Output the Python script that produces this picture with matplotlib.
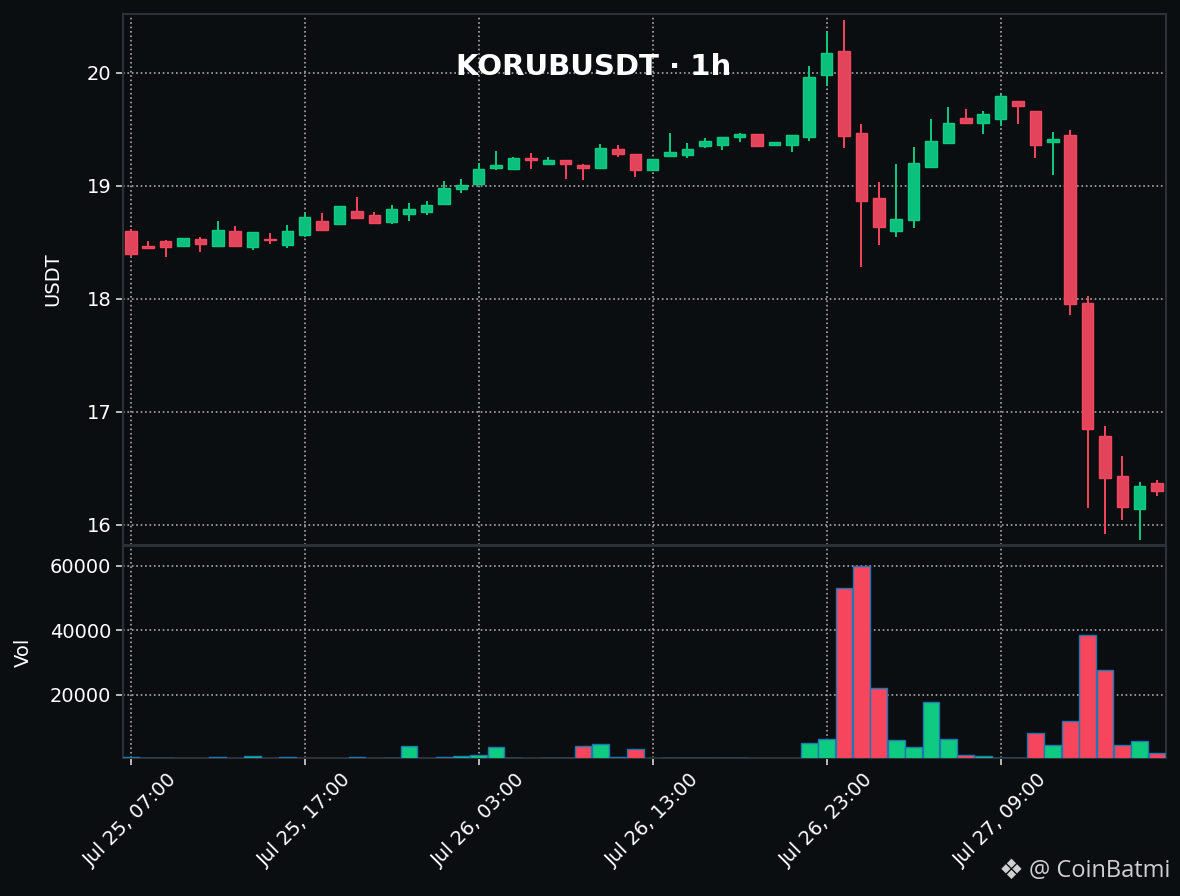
import matplotlib
matplotlib.use("Agg")
import matplotlib.pyplot as plt
import pandas as pd
import numpy as np

# hourly candles, KORUBUSDT
times = pd.date_range("2025-07-25 07:00", periods=60, freq="h")

opens = [18.60, 18.47, 18.51, 18.47, 18.53, 18.466, 18.60, 18.455, 18.53, 18.472,
         18.56, 18.69, 18.657, 18.776, 18.74, 18.68, 18.75, 18.767, 18.835, 18.97,
         19.015, 19.153, 19.145, 19.248, 19.19, 19.227, 19.186, 19.153, 19.325, 19.28,
         19.139, 19.263, 19.268, 19.348, 19.36, 19.43, 19.457, 19.36, 19.36, 19.43,
         19.98, 20.19, 19.466, 18.89, 18.60, 18.696, 19.165, 19.374, 19.60, 19.555,
         19.59, 19.75, 19.661, 19.387, 19.449, 17.962, 16.785, 16.431, 16.139, 16.369]
highs = [18.62, 18.51, 18.52, 18.54, 18.55, 18.69, 18.64, 18.59, 18.585, 18.655,
         18.76, 18.76, 18.82, 18.90, 18.77, 18.83, 18.85, 18.867, 19.045, 19.06,
         19.20, 19.31, 19.25, 19.29, 19.25, 19.23, 19.195, 19.37, 19.363, 19.28,
         19.24, 19.47, 19.38, 19.425, 19.43, 19.47, 19.46, 19.39, 19.45, 20.062,
         20.363, 20.47, 19.55, 19.035, 19.195, 19.345, 19.593, 19.70, 19.68, 19.665,
         19.814, 19.75, 19.661, 19.478, 19.496, 18.027, 16.876, 16.611, 16.381, 16.398]
lows = [18.38, 18.44, 18.365, 18.455, 18.41, 18.46, 18.47, 18.435, 18.48, 18.445,
        18.546, 18.61, 18.655, 18.71, 18.67, 18.66, 18.69, 18.737, 18.826, 18.94,
        19.01, 19.135, 19.14, 19.15, 19.18, 19.056, 19.047, 19.144, 19.25, 19.073,
        19.139, 19.26, 19.242, 19.33, 19.32, 19.383, 19.35, 19.36, 19.295, 19.392,
        19.885, 19.33, 18.277, 18.472, 18.543, 18.622, 19.165, 19.37, 19.555, 19.454,
        19.531, 19.543, 19.242, 19.091, 17.852, 16.144, 15.914, 16.038, 15.861, 16.25]
closes = [18.40, 18.45, 18.455, 18.535, 18.485, 18.608, 18.47, 18.59, 18.52, 18.60,
          18.723, 18.61, 18.82, 18.711, 18.67, 18.79, 18.79, 18.83, 18.98, 19.006,
          19.148, 19.183, 19.245, 19.224, 19.227, 19.192, 19.153, 19.334, 19.28, 19.139,
          19.236, 19.298, 19.325, 19.395, 19.43, 19.457, 19.35, 19.387, 19.449, 19.962,
          20.174, 19.44, 18.865, 18.634, 18.705, 19.20, 19.395, 19.555, 19.555, 19.635,
          19.794, 19.702, 19.357, 19.413, 17.953, 16.847, 16.413, 16.157, 16.342, 16.298]
volumes = [900, 600, 600, 300, 300, 900, 300, 1200, 300, 900,
           300, 300, 300, 900, 300, 600, 4200, 300, 900, 1100,
           1400, 3900, 600, 300, 600, 600, 4200, 4800, 900, 3300,
           300, 600, 600, 600, 600, 600, 300, 300, 300, 5100,
           6350, 53090, 60050, 22080, 5950, 3780, 17730, 6260, 1400, 990,
           600, 600, 8220, 4400, 11840, 38510, 27660, 4400, 5640, 2015]

bg = "#0b0e11"
up_fill, up_edge = "#0bbf7d", "#0ecb81"
dn_fill, dn_edge = "#e2455b", "#f6465d"
grid_kw = dict(color="#a8a8a8", linestyle=":", linewidth=1.2)
spine_c = "#2b3139"

o = np.array(opens)
c = np.array(closes)
x = np.arange(len(times))
up = c >= o

fig = plt.figure(figsize=(11.8, 8.96), dpi=100, facecolor=bg)
ax = fig.add_axes([0.1042, 0.3917, 0.8838, 0.5927])
axv = fig.add_axes([0.1042, 0.154, 0.8838, 0.2365], sharex=ax)

for a in (ax, axv):
    a.set_facecolor(bg)
    for s in a.spines.values():
        s.set_color(spine_c)
        s.set_linewidth(1.5)
    a.tick_params(colors="#d8d8d8", labelcolor="white", labelsize=14, length=5, width=1.2)
    a.grid(True, **grid_kw)
    a.set_axisbelow(True)

# candles
ax.vlines(x, lows, highs, colors=np.where(up, up_edge, dn_edge), linewidth=1.4, zorder=2)
ax.bar(x, np.abs(c - o), bottom=np.minimum(o, c), width=0.66,
       color=np.where(up, up_fill, dn_fill), edgecolor=np.where(up, up_edge, dn_edge),
       linewidth=1.0, zorder=3)
ax.set_ylim(15.82, 20.52)
ax.set_yticks([16, 17, 18, 19, 20])
ax.set_ylabel("USDT", color="white", fontsize=14)
ax.yaxis.set_label_coords(-0.0585, 0.5)
ax.tick_params(axis="x", which="both", bottom=False, labelbottom=False)

# volume
axv.bar(x, volumes, width=0.96, color=np.where(up, up_edge, dn_edge),
        edgecolor="#1f77b4", linewidth=1.0, zorder=3)
axv.set_ylim(500, 66055)
axv.set_yticks([20000, 40000, 60000])
axv.set_ylabel("Vol", color="white", fontsize=14)
axv.yaxis.set_label_coords(-0.086, 0.5)

ax.set_xlim(-0.45, 59.5)
tick_pos = x[::10]
axv.set_xticks(tick_pos)
axv.set_xticklabels([times[i].strftime("%b %d, %H:%M") for i in tick_pos], rotation=45)

fig.text(0.503, 1 - 67 / 896, "KORUBUSDT · 1h", color="white", fontsize=21,
         fontweight="bold", ha="center", va="center")
fig.text(0.9915, 1 - 871 / 896, "@ CoinBatmi", color="#cfcfcf", fontsize=17,
         ha="right", va="center", family=["Open Sans", "DejaVu Sans"])
fig.text(0.857, 1 - 871 / 896, "❖", color="#cfcfcf", fontsize=20,
         ha="center", va="center")

fig.savefig("out.png", dpi=100, facecolor=bg)
